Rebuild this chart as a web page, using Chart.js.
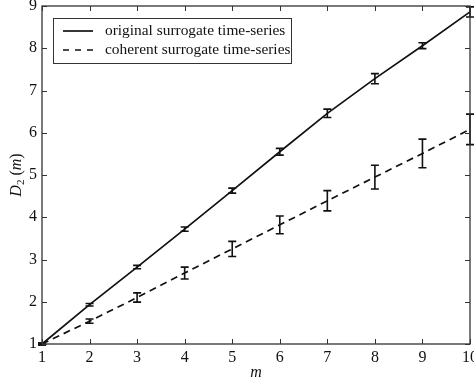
<!DOCTYPE html>
<html>
<head>
<meta charset="utf-8">
<script src="https://cdn.jsdelivr.net/npm/chart.js@4.4.1/dist/chart.umd.min.js"></script>
<style>
html,body{margin:0;padding:0;background:#fff;overflow:hidden;}
#wrap{width:474px;height:382px;position:relative;overflow:hidden;}
</style>
</head>
<body>
<div id="wrap"><canvas id="c" width="474" height="382"></canvas></div>
<script>
const mValues = [1, 2, 3, 4, 5, 6, 7, 8, 9, 10];
const originalD2 = [1.0, 1.93, 2.82, 3.72, 4.63, 5.55, 6.46, 7.28, 8.06, 8.86];
const originalErr = [0.02, 0.03, 0.04, 0.05, 0.06, 0.08, 0.10, 0.12, 0.07, 0.12];
const coherentD2 = [1.0, 1.54, 2.10, 2.68, 3.25, 3.82, 4.39, 4.95, 5.51, 6.08];
const coherentErr = [0.02, 0.05, 0.11, 0.14, 0.18, 0.21, 0.24, 0.28, 0.34, 0.36];
const xTicks = [1, 2, 3, 4, 5, 6, 7, 8, 9, 10];
const yTicks = [1, 2, 3, 4, 5, 6, 7, 8, 9];
const seriesNames = ['original surrogate time-series', 'coherent surrogate time-series'];

const FONT = '"Liberation Serif", "Times New Roman", serif';
const INK = '#111';

const pts = (ys) => mValues.map((m, i) => ({x: m, y: ys[i]}));

const extras = {
  id: 'extras',
  afterDatasetsDraw(chart) {
    const ctx = chart.ctx, a = chart.chartArea;
    const xs = chart.scales.x, ys = chart.scales.y;
    ctx.save();
    // error bars
    const drawErr = (vals, errs) => {
      ctx.strokeStyle = INK; ctx.lineWidth = 1.6; ctx.setLineDash([]);
      vals.forEach((v, i) => {
        const px = xs.getPixelForValue(mValues[i]);
        const y1 = ys.getPixelForValue(v - errs[i]);
        const y2 = ys.getPixelForValue(v + errs[i]);
        ctx.beginPath();
        ctx.moveTo(px, y1); ctx.lineTo(px, y2);
        ctx.moveTo(px - 4, y1); ctx.lineTo(px + 4, y1);
        ctx.moveTo(px - 4, y2); ctx.lineTo(px + 4, y2);
        ctx.stroke();
      });
    };
    drawErr(originalD2, originalErr);
    drawErr(coherentD2, coherentErr);
    // frame
    ctx.strokeStyle = '#333'; ctx.lineWidth = 1.3;
    ctx.strokeRect(a.left, a.top, a.right - a.left, a.bottom - a.top);
    // inward ticks
    ctx.lineWidth = 1;
    ctx.beginPath();
    xTicks.forEach(t => {
      const px = Math.round(xs.getPixelForValue(t)) + 0.5;
      ctx.moveTo(px, a.bottom); ctx.lineTo(px, a.bottom - 5);
      ctx.moveTo(px, a.top); ctx.lineTo(px, a.top + 5);
    });
    yTicks.forEach(t => {
      const py = Math.round(ys.getPixelForValue(t)) + 0.5;
      ctx.moveTo(a.left, py); ctx.lineTo(a.left + 5, py);
      ctx.moveTo(a.right, py); ctx.lineTo(a.right - 5, py);
    });
    ctx.stroke();
    // legend
    const lx = 53, ly = 18, lw = 238, lh = 45;
    ctx.fillStyle = '#fff';
    ctx.fillRect(lx, ly, lw, lh);
    ctx.strokeStyle = '#333'; ctx.lineWidth = 1;
    ctx.strokeRect(lx + 0.5, ly + 0.5, lw, lh);
    ctx.strokeStyle = INK; ctx.lineWidth = 1.7;
    ctx.beginPath(); ctx.moveTo(63, 31); ctx.lineTo(93, 31); ctx.stroke();
    ctx.setLineDash([6, 6]);
    ctx.beginPath(); ctx.moveTo(63, 50); ctx.lineTo(95, 50); ctx.stroke();
    ctx.setLineDash([]);
    ctx.fillStyle = INK;
    ctx.font = '15.4px ' + FONT;
    ctx.textBaseline = 'middle';
    ctx.textAlign = 'left';
    ctx.fillText(seriesNames[0], 105, 31);
    ctx.fillText(seriesNames[1], 105, 50);
    // x title
    ctx.font = 'italic 16px ' + FONT;
    ctx.textAlign = 'center';
    ctx.fillText('m', (a.left + a.right) / 2, 373);
    // y title
    ctx.translate(17, (a.top + a.bottom) / 2);
    ctx.rotate(-Math.PI / 2);
    ctx.textAlign = 'left';
    const parts = [
      {t: 'D', f: 'italic 16px ' + FONT, dy: 0},
      {t: '2', f: '11px ' + FONT, dy: 4},
      {t: ' (', f: '16px ' + FONT, dy: 0},
      {t: 'm', f: 'italic 16px ' + FONT, dy: 0},
      {t: ')', f: '16px ' + FONT, dy: 0}
    ];
    let total = 0;
    parts.forEach(p => { ctx.font = p.f; total += ctx.measureText(p.t).width; });
    let cx = -total / 2;
    parts.forEach(p => { ctx.font = p.f; ctx.fillText(p.t, cx, p.dy); cx += ctx.measureText(p.t).width; });
    ctx.restore();
  }
};

new Chart(document.getElementById('c'), {
  type: 'line',
  data: {
    datasets: [
      {label: seriesNames[0], data: pts(originalD2), borderColor: INK, borderWidth: 1.7,
       pointRadius: 0, fill: false, tension: 0, clip: false},
      {label: seriesNames[1], data: pts(coherentD2), borderColor: INK, borderWidth: 1.7,
       borderDash: [7, 5], pointRadius: 0, fill: false, tension: 0, clip: false}
    ]
  },
  options: {
    responsive: false,
    animation: false,
    layout: {padding: {top: 6, right: 4, left: 0, bottom: 0}},
    plugins: {legend: {display: false}, tooltip: {enabled: false}},
    scales: {
      x: {
        type: 'linear', min: 1, max: 10,
        afterBuildTicks: (s) => { s.ticks = xTicks.map(v => ({value: v})); },
        afterFit: (s) => { s.height = 38; s.paddingLeft = 0; s.paddingRight = 0; },
        grid: {display: false, drawTicks: false},
        border: {display: false},
        ticks: {font: {family: FONT, size: 16}, color: INK, padding: 4, maxRotation: 0}
      },
      y: {
        type: 'linear', min: 1, max: 9,
        afterBuildTicks: (s) => { s.ticks = yTicks.map(v => ({value: v})); },
        afterFit: (s) => { s.width = 42; s.paddingTop = 0; s.paddingBottom = 0; },
        grid: {display: false, drawTicks: false},
        border: {display: false},
        ticks: {font: {family: FONT, size: 16}, color: INK, padding: 5}
      }
    }
  },
  plugins: [extras]
});
</script>
</body>
</html>
